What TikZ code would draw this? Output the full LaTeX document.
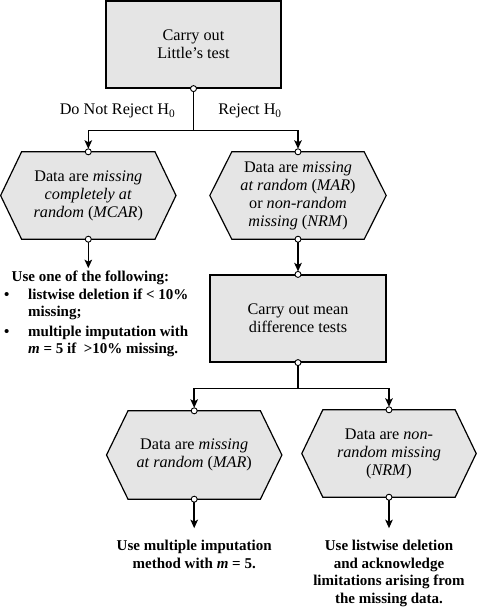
\documentclass[tikz,border=0pt]{standalone}
\usepackage{fontspec}
\setmainfont{Liberation Serif}
\usetikzlibrary{positioning,arrows.meta,backgrounds}

\definecolor{boxgray}{gray}{0.9}
\newcommand{\figfont}{\fontsize{16.2}{18}\selectfont}

% hexagon drawn round a plain node: name, inset
\newcommand{\hexpath}[2]{%
  \path[hexline] ([xshift=#2]#1.north west) -- ([xshift=-#2]#1.north east) -- (#1.east)
    -- ([xshift=-#2]#1.south east) -- ([xshift=#2]#1.south west) -- (#1.west) -- cycle;}

\begin{document}
\begin{tikzpicture}[
    x=1pt, y=-1pt,
    font=\figfont,
    box/.style={
        draw,
        line width=1.2pt,
        fill=boxgray,
        align=center,
        inner sep=0pt,
        minimum width=175pt,
        minimum height=87pt
    },
    hexbox/.style={
        align=center,
        inner sep=0pt,
        minimum width=175pt,
        minimum height=87pt
    },
    hexline/.style={draw, line width=1.2pt, fill=boxgray},
    conn/.style={line width=1.6pt},
    arrow/.style={conn, -{Stealth[length=8.5pt,width=7.5pt,inset=2pt]}, shorten >=3pt},
    dot/.style={circle, draw, line width=0.9pt, fill=white, inner sep=0pt, minimum size=6pt},
    note/.style={font=\fontsize{15}{17.5}\selectfont\bfseries, align=center, inner sep=0pt}
]
\useasboundingbox (0,0) rectangle (477,608);

\node[box] (little) at (193.5,44.5) {Carry out\\Little's test};
\node[hexbox] (mcar) at (88.3,195.5) {Data are \textit{missing}\\\textit{completely at}\\\textit{random} (\textit{MCAR})};
\node[hexbox, minimum width=176pt] (mnar) at (298,195.5) {Data are \textit{missing}\\\textit{at random} (\textit{MAR})\\or \textit{non-random}\\\textit{missing} (\textit{NRM})};
\node[box, minimum width=176pt] (mean) at (298,318.5) {Carry out mean\\difference tests};
\node[hexbox, minimum height=88pt] (mar) at (194.2,455) {Data are \textit{missing}\\\textit{at random} (\textit{MAR})};
\node[hexbox, minimum width=174pt] (nrm) at (389,453.5) {Data are \textit{non-}\\\textit{random missing}\\(\textit{NRM})};

\begin{scope}[on background layer]
  \hexpath{mcar}{21pt}
  \hexpath{mnar}{22pt}
  \hexpath{mar}{21.5pt}
  \hexpath{nrm}{21pt}
\end{scope}

\node (keep) at (117.5,111) {Do Not Reject H\textsubscript{0}};
\node (reject) at (250,111) {Reject H\textsubscript{0}};

\coordinate (split1) at ([yshift=-42pt]little.south);
\coordinate (split2) at ([yshift=-26pt]mean.south);
\coordinate (mcarend) at ([yshift=-29pt]mcar.south);
\coordinate (marend) at ([yshift=-29pt]mar.south);
\coordinate (nrmend) at (nrm.south |- marend);

\draw[conn] (little.south) -- (split1);
\draw[arrow] (split1) -| (mcar.north);
\draw[arrow] (split1) -| (mnar.north);
\draw[arrow] (mnar.south) -- (mean.north);
\draw[conn] (mean.south) -- (split2);
\draw[arrow] (split2) -| (mar.north);
\draw[arrow] (split2) -| (nrm.north);
\draw[arrow, shorten >=0pt] (mcar.south) -- (mcarend);
\draw[arrow, shorten >=0pt] (mar.south) -- (marend);
\draw[arrow, shorten >=0pt] (nrm.south) -- (nrmend);

\foreach \p [count=\i] in {little.south,mcar.north,mcar.south,mnar.north,mnar.south,
    mean.north,mean.south,mar.north,mar.south,nrm.north,nrm.south}
  \node[dot] (dot\i) at (\p) {};

\node[note, anchor=north west, align=left] (rules) at (2,269.5) {%
  \begin{tabular}{@{}p{26pt}@{}l@{}}
    \multicolumn{2}{@{}l@{}}{\hspace{9.5pt}Use one of the following:}\\
    \hspace{2pt}\textbullet & listwise deletion if < 10\%\\
    & missing;\\[2pt]
    \hspace{2pt}\textbullet & multiple imputation with\\
    & \textit{m} = 5 if\ \ >10\% missing.
  \end{tabular}};
\node[note, below=12pt of marend] (usemi) {Use multiple imputation\\method with \textit{m} = 5.};
\node[note, below=12pt of nrmend] (uselw) {Use listwise deletion\\and acknowledge\\limitations arising from\\the missing data.};

\end{tikzpicture}
\end{document}
